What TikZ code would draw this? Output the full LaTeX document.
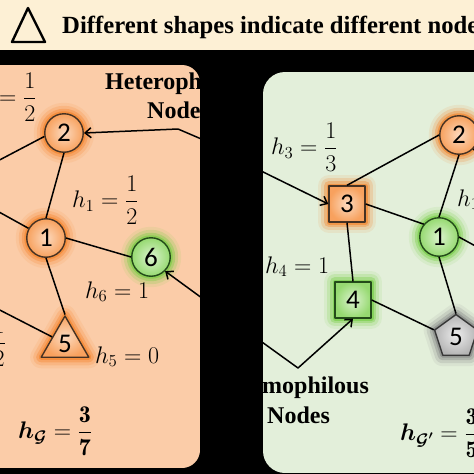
\RequirePackage{fix-cm}
\documentclass[tikz,border=0pt]{standalone}
\usepackage{amsmath,amssymb,bm}
\usepackage{fontspec}
\newfontfamily\capfont{Liberation Serif}
\newfontfamily\numfont{Carlito}
\usepackage{tikz}
\usetikzlibrary{arrows.meta,shapes.geometric}
\definecolor{banner}{RGB}{253,240,213}
\definecolor{hetback}{RGB}{251,204,168}
\definecolor{homback}{RGB}{227,239,218}
\definecolor{glowor}{RGB}{245,130,40}
\definecolor{glowgr}{RGB}{115,205,65}
\definecolor{glowgy}{RGB}{130,130,130}
\definecolor{lineor}{RGB}{70,50,35}
\definecolor{linegr}{RGB}{35,75,25}
\definecolor{linegy}{RGB}{55,55,55}
\tikzset{
  nd/.style={inner sep=0pt,line width=1.4pt,font=\numfont\fontsize{27}{27}\selectfont},
  glow/.style={preaction={draw=#1,line width=22pt,opacity=.1},
    preaction={draw=#1,line width=16pt,opacity=.2},
    preaction={draw=#1,line width=10pt,opacity=.35},
    preaction={draw=#1,line width=5pt,opacity=.6}},
  orn/.style={nd,glow=glowor,draw=lineor,inner color=white!70!glowor,outer color=glowor!75!white},
  grn/.style={nd,glow=glowgr,draw=linegr,inner color=white!75!glowgr,outer color=glowgr!75!white},
  gyn/.style={nd,glow=glowgy,draw=linegy,inner color=white!85!glowgy,outer color=glowgy!60!white},
  rnd/.style={circle,minimum size=38.5pt},
  sqr/.style={rectangle,minimum size=36pt},
  edge/.style={line width=1.5pt},
  hlab/.style={inner sep=0pt,font=\fontsize{24}{28}\selectfont},
  captxt/.style={inner sep=0pt,font=\capfont\bfseries\fontsize{24}{28}\selectfont}
}

\begin{document}
\begin{tikzpicture}[x=1pt,y=-1pt,>={Straight Barb[length=6pt,width=10pt]},line join=round]
\useasboundingbox (0,0) rectangle (474,474);
\clip (0,0) rectangle (474,474);
% --- banner and black back
\fill[banner] (0,0) rectangle (474,50);
\fill[black] (0,50) rectangle (474,474);
\draw[line width=2.4pt] (28,8) -- (45,42) -- (12,42) -- cycle;
\node[captxt,font=\capfont\bfseries\fontsize{24.7}{28}\selectfont,anchor=base west] (title) at (62,33) {Different shapes indicate different node};
% --- left graph
\begin{scope}
\clip[rounded corners=18pt] (-30,65) rectangle (200,468);
\fill[hetback] (-30,65) rectangle (200,468);
\node[orn,rnd] (l2) at (64,133) {2};
\node[orn,rnd] (l1) at (46,238) {1};
\node[grn,rnd] (l6) at (151,257) {6};
\node[orn,regular polygon,regular polygon sides=3,minimum size=55pt] (l5) at (65,343.5) {5};
\coordinate (l2w) at (-10,165);
\coordinate (l1w) at (-10,207);
\coordinate (l5w) at (-10,305);
\coordinate (hin1) at (206,141);
\coordinate (hbend) at (178,129);
\coordinate (hin2) at (206,301);
\draw[edge] (l2.190) -- (l2w) (l1) -- (l1w) (l5) -- (l5w);
\draw[edge] (l2.south) -- (l1.north) (l1.east) -- (l6.west) (l1.south) -- (l5.corner 1);
\draw[edge,->] (hin1) -- (hbend) -- (l2.east);
\draw[edge,->] (hin2) -- (l6.-45);
\node[hlab,anchor=west] (h2) at (-1,97) {$=\dfrac{1}{2}$};
\node[hlab,anchor=west] (h1) at (72,200) {$h_1=\dfrac{1}{2}$};
\node[hlab,anchor=base west] (h6) at (85,298) {$h_6=1$};
\node[hlab,anchor=base west] (h5) at (95,363) {$h_5=0$};
\node[hlab,anchor=east] (hx) at (6,342) {$\dfrac{1}{2}$};
\node[hlab,anchor=west] (hg) at (18,431) {$\bm{h}_{\bm{\mathcal{G}}}=\dfrac{\mathbf{3}}{\mathbf{7}}$};
\node[captxt,anchor=base west] (het1) at (105,89) {Heteroph};
\node[captxt,anchor=base west] (het2) at (147,118) {Node};
\end{scope}
% --- right graph
\begin{scope}
\clip[rounded corners=22pt] (263,72) rectangle (520,473);
\fill[homback] (263,72) rectangle (520,473);
\node[orn,sqr] (r3) at (347,204) {3};
\node[orn,rnd] (r2) at (459,135) {2};
\node[grn,rnd] (r1) at (439,237) {1};
\node[grn,sqr] (r4) at (353,300) {4};
\node[gyn,regular polygon,regular polygon sides=5,minimum size=45pt] (r5) at (456,337) {5};
\coordinate (r2e) at (495,165);
\coordinate (r1e) at (490,254);
\coordinate (hoin1) at (255,168);
\coordinate (hoin2) at (255,337);
\coordinate (hobend) at (298,368);
\draw[edge] (r3.north) -- (r2.west) (r3.east) -- (r1.140) (r3.south) -- (r4.north);
\draw[edge] (r2.south) -- (r1.north) (r1.south) -- (r5.corner 1) (r4.east) -- (r5.corner 2);
\draw[edge] (r1.east) -- (r1e) (r2.-45) -- (r2e);
\draw[edge,->] (hoin1) -- (r3.west);
\draw[edge,->] (hoin2) -- (hobend) -- (r4.south);
\node[hlab,anchor=west] (h3) at (271,147) {$h_3=\dfrac{1}{3}$};
\node[hlab,anchor=base west] (h4) at (265,273) {$h_4=1$};
\node[hlab,anchor=base west] (h1r) at (457,206) {$h_1$};
\node[hlab,anchor=west] (hgp) at (400,433) {$\bm{h}_{\bm{\mathcal{G}'}}=\dfrac{\mathbf{3}}{\mathbf{5}}$};
\node[captxt,anchor=base west] (hom1) at (262,393) {mophilous};
\node[captxt,anchor=base west] (hom2) at (267,423) {Nodes};
\end{scope}
\end{tikzpicture}
\end{document}
